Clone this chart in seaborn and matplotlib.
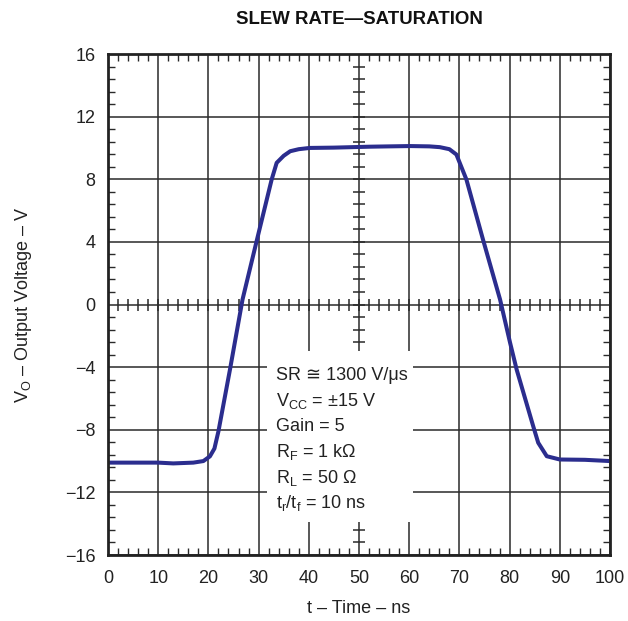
import matplotlib
matplotlib.use('Agg')
import matplotlib.pyplot as plt
import matplotlib.patches as mpatches
import numpy as np
import pandas as pd
import seaborn as sns

# waveform
time_ns = [0, 5, 10, 13, 17, 19, 20.3, 21.2, 22.0, 24.3, 26.8, 29.6, 32.6, 33.6, 35.0, 36.3,
           38.0, 40.2, 45, 52.2, 56, 60.2, 64, 66.1, 68.0, 69.4, 71.4, 74.7, 78.1, 80.1,
           81.4, 84.7, 85.7, 87.4, 90.0, 95, 100]
vout = [-10.1, -10.1, -10.1, -10.15, -10.1, -10.0, -9.7, -9.2, -8.1, -4.15, 0.32, 4.04, 7.98,
        9.05, 9.5, 9.79, 9.92, 10.0, 10.02, 10.08, 10.1, 10.12, 10.1, 10.05, 9.92, 9.58,
        7.98, 4.15, 0.32, -2.45, -4.15, -7.77, -8.83, -9.69, -9.9, -9.92, -10.0]

x_major = np.arange(0, 101, 10)
y_major = np.arange(-16, 17, 4)
x_minor = np.arange(0, 100.1, 2)
y_minor = np.arange(-16, 16.01, 0.8)

notes = ['SR \u2245 1300 V/\u03bcs',
         'V$_{\\rm CC}$ = \u00b115 V',
         'Gain = 5',
         r'R$_{\rm F}$ = 1 k$\Omega$',
         r'R$_{\rm L}$ = 50 $\Omega$',
         r't$_{\rm r}$/t$_{\rm f}$ = 10 ns']

df = pd.DataFrame({'t': time_ns, 'v': vout})

sns.set_style('white')
plt.rcParams['font.family'] = ['Liberation Sans', 'DejaVu Sans']
plt.rcParams['mathtext.fontset'] = 'custom'
plt.rcParams['mathtext.rm'] = 'Liberation Sans'
plt.rcParams['mathtext.it'] = 'Liberation Sans:italic'
plt.rcParams['mathtext.fallback'] = 'cm'

fig = plt.figure(figsize=(6.28, 6.21), dpi=100)
ax = fig.add_axes([108/628, 66/621, 502/628, 501/621])

# scope grid
for xv in x_major:
    ax.axvline(xv, color='#2a2a2a', lw=1.1, zorder=1)
for yv in y_major:
    ax.axhline(yv, color='#2a2a2a', lw=1.1, zorder=1)
# cross ticks along centre lines
ax.plot(x_minor, np.zeros_like(x_minor), ls='none', marker='|', ms=9, mew=1.1,
        color='#2a2a2a', zorder=1)
ax.plot(np.full_like(y_minor, 50), y_minor, ls='none', marker='_', ms=9, mew=1.1,
        color='#2a2a2a', zorder=1)

# white panel behind the annotation
ax.add_patch(mpatches.Rectangle((31.7, -13.9), 29.0, 10.9, facecolor='white',
                                edgecolor='none', zorder=2))

sns.lineplot(data=df, x='t', y='v', ax=ax, color='#2b2d8e', lw=2.9, zorder=3)

for i, s in enumerate(notes):
    ax.text(33.5, -4.55 - i * 1.63, s, fontsize=13, va='center', ha='left',
            color='#222222', zorder=4)

ax.set_xlim(0, 100)
ax.set_ylim(-16, 16)
ax.set_xticks(x_major)
ax.set_yticks(y_major)
ax.set_xticks(x_minor, minor=True)
ax.set_yticks(y_minor, minor=True)
ax.tick_params(axis='x', which='major', length=0, labelsize=13,
               labelcolor='#222222', pad=11)
ax.tick_params(axis='y', which='major', length=0, labelsize=13,
               labelcolor='#222222', pad=9)
ax.tick_params(which='minor', direction='in', length=5, width=1.0, color='#2a2a2a',
               top=True, bottom=True, left=True, right=True)
for sp in ax.spines.values():
    sp.set_linewidth(2.0)
    sp.set_color('#222222')
    sp.set_zorder(5)

ax.set_xlabel('t – Time – ns', fontsize=13, color='#222222', labelpad=9)
ax.set_ylabel(r'V$_{\rm O}$ – Output Voltage – V', fontsize=13, color='#222222',
              labelpad=22)
fig.text(359/628, 1 - 19/621, 'SLEW RATE—SATURATION', ha='center', va='center',
         fontsize=13.4, fontweight='bold', color='#111111')

fig.savefig('out.png', dpi=100)
